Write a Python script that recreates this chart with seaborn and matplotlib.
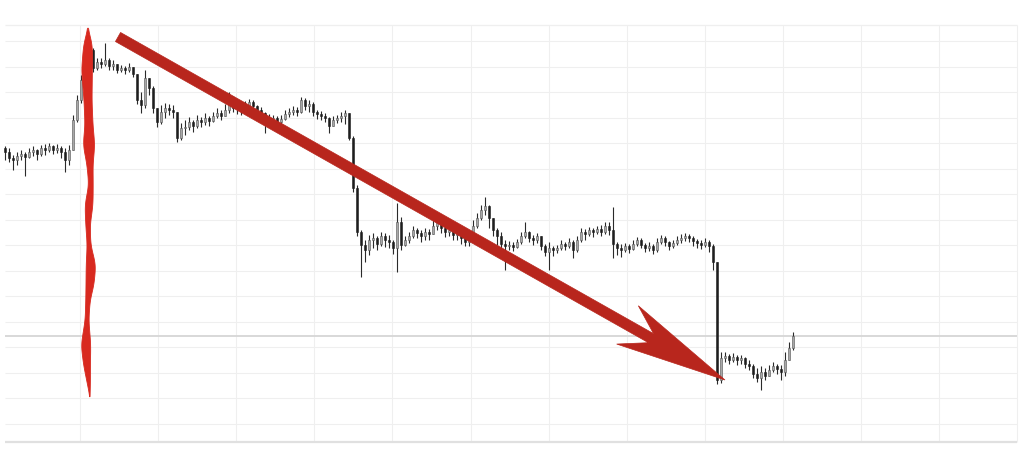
import numpy as np
import matplotlib
matplotlib.use("Agg")
import matplotlib.pyplot as plt
import seaborn as sns
from matplotlib.patches import Polygon

# ---------------- data (price units, one candle per bar) ----------------
first_open = 352
close = [348, 342, 340, 344, 346, 343, 348, 350, 346, 352, 350, 354, 350, 352, 348, 340,
         350, 380, 400, 420, 430, 450, 432, 438, 436, 440, 434, 436, 430, 432, 430, 433,
         426, 400, 395, 422, 412, 392, 378, 388, 392, 390, 388, 362, 372, 373, 378, 374,
         380, 378, 382, 379, 384, 387, 384, 390, 400, 392, 396, 390, 394, 398, 394, 390,
         387, 382, 380, 382, 378, 381, 386, 388, 390, 388, 400, 394, 396, 388, 386, 384,
         382, 374, 380, 382, 384, 387, 362, 312, 268, 255, 250, 260, 262, 256, 264, 260,
         258, 252, 278, 255, 260, 264, 270, 267, 264, 268, 266, 274, 278, 272, 268, 270,
         265, 267, 262, 258, 260, 274, 282, 290, 294, 282, 270, 264, 256, 254, 255, 253,
         258, 264, 268, 262, 260, 264, 254, 248, 252, 250, 252, 256, 254, 258, 250, 260,
         268, 266, 270, 268, 271, 268, 274, 270, 256, 252, 250, 254, 251, 256, 260, 255,
         252, 254, 250, 258, 262, 258, 254, 257, 260, 262, 264, 262, 259, 257, 255, 258,
         254, 238, 120, 142, 144, 140, 143, 140, 142, 136, 134, 126, 122, 128, 124, 130,
         134, 131, 128, 140, 152, 164]
high = [354, 352, 345, 348, 350, 348, 352, 354, 351, 355, 356, 357, 355, 356, 354, 352,
        355, 385, 405, 425, 438, 456, 452, 442, 442, 457, 442, 440, 436, 435, 434, 437,
        430, 426, 408, 430, 420, 414, 392, 395, 397, 396, 395, 388, 377, 380, 383, 380,
        385, 383, 387, 384, 388, 392, 390, 396, 408, 404, 400, 398, 399, 401, 400, 395,
        393, 388, 386, 385, 384, 385, 390, 392, 394, 393, 403, 402, 400, 398, 390, 389,
        387, 383, 384, 385, 388, 390, 386, 364, 315, 270, 260, 265, 267, 264, 268, 267,
        265, 260, 297, 283, 264, 268, 274, 272, 270, 272, 271, 280, 282, 279, 274, 274,
        271, 271, 268, 264, 264, 280, 287, 295, 303, 295, 282, 272, 268, 260, 259, 258,
        261, 268, 278, 269, 265, 267, 264, 256, 258, 254, 255, 260, 258, 262, 260, 264,
        272, 271, 273, 272, 274, 275, 278, 278, 293, 258, 256, 257, 256, 260, 263, 262,
        257, 258, 256, 262, 265, 264, 259, 260, 264, 266, 267, 266, 264, 261, 260, 262,
        260, 256, 238, 148, 148, 146, 147, 145, 145, 143, 140, 136, 132, 134, 132, 135,
        138, 136, 135, 148, 158, 168]
low = [340, 338, 330, 335, 340, 324, 342, 344, 340, 344, 345, 348, 346, 347, 342, 328,
       335, 350, 378, 397, 416, 426, 428, 430, 432, 434, 430, 430, 427, 428, 426, 428,
       423, 396, 387, 392, 405, 387, 373, 376, 382, 385, 382, 358, 360, 365, 370, 368,
       372, 373, 375, 374, 378, 382, 380, 384, 387, 388, 386, 385, 388, 392, 390, 385,
       382, 367, 374, 376, 374, 375, 380, 383, 385, 384, 387, 390, 388, 384, 381, 380,
       378, 367, 375, 377, 378, 376, 360, 308, 264, 223, 238, 245, 252, 250, 254, 253,
       252, 246, 228, 250, 254, 257, 262, 262, 258, 260, 260, 266, 270, 267, 263, 264,
       260, 260, 256, 254, 254, 259, 272, 280, 285, 272, 264, 255, 250, 230, 250, 249,
       252, 256, 262, 258, 255, 257, 250, 244, 230, 244, 247, 250, 250, 252, 242, 248,
       258, 260, 264, 263, 266, 264, 266, 265, 242, 245, 243, 248, 247, 250, 254, 252,
       248, 249, 246, 248, 256, 254, 250, 252, 255, 257, 259, 258, 254, 252, 251, 253,
       248, 230, 116, 117, 138, 136, 138, 135, 136, 132, 130, 122, 118, 110, 120, 124,
       128, 126, 120, 124, 144, 150]
current_price = 164

# arrow (candle index, price) and brush stroke
arrow_tail = (28.25, 463)
arrow_tip = (180.0, 120)
wave_p = [472, 455, 430, 400, 375, 355, 335, 315, 295, 275, 255, 235, 215, 200, 180, 155, 135, 115, 103]
wave_i = [20.75, 20.75, 20.5, 20.75, 21.0, 21.0, 21.25, 21.5, 21.0, 20.75, 21.0, 21.5, 21.25,
          20.75, 20.5, 20.25, 20.5, 21.0, 21.25]
wave_w = [0.0, 1.1, 1.35, 1.0, 1.0, 1.45, 0.75, 0.55, 1.0, 0.55, 0.45, 1.2, 1.0, 0.55, 0.45, 1.2,
          0.85, 0.35, 0.0]

# ---------------- figure ----------------
sns.set_theme(style="white")
fig = plt.figure(figsize=(10.24, 4.55), dpi=100)
ax = fig.add_axes([0, 0, 1, 1])
ax.set_xlim(-1.25, 254.75)
ax.set_ylim(45, 500)
for s in ax.spines.values():
    s.set_visible(False)
ax.set_xticks([])
ax.set_yticks([])

# grid
hgrid = 459 - 25.5 * np.arange(16)
ax.hlines(hgrid, 0, 253, color="#efefef", lw=0.8, zorder=0)
vgrid = 18.75 + 19.525 * np.arange(13)
ax.vlines(vgrid, 58, 475, color="#efefef", lw=0.8, zorder=0)
ax.hlines([475], 0, 253, color="#efefef", lw=0.9, zorder=0)
ax.hlines([58], 0, 253, color="#e0e0e0", lw=1.6, zorder=0)
ax.hlines([current_price], 0, 253, color="#d8d8d8", lw=1.4, zorder=0)

# candles
close_a = np.array(close, float)
open_a = np.concatenate([[first_open], close_a[:-1]])
hi_a = np.maximum.reduce([np.array(high, float), open_a, close_a])
lo_a = np.minimum.reduce([np.array(low, float), open_a, close_a])
idx = np.arange(len(close_a))
ax.vlines(idx, lo_a, hi_a, color="#2a2a2a", lw=0.8, zorder=2)
up = close_a >= open_a
bot = np.minimum(open_a, close_a)
hgt = np.maximum(np.abs(close_a - open_a), 1.5)
ax.bar(idx[up], hgt[up], bottom=bot[up], width=0.55, color="#a8a8a8", edgecolor="#555555",
       linewidth=0.4, zorder=3)
ax.bar(idx[~up], hgt[~up], bottom=bot[~up], width=0.55, color="#1e1e1e", edgecolor="#1e1e1e",
       linewidth=0.4, zorder=3)

# brush stroke (red wavy line)
pp = np.linspace(wave_p[0], wave_p[-1], 400)
order = np.argsort(wave_p)
ci = np.interp(pp, np.array(wave_p)[order], np.array(wave_i)[order])
cw = np.interp(pp, np.array(wave_p)[order], np.array(wave_w)[order])
k = np.hanning(31); k /= k.sum()
ci_s = np.convolve(np.pad(ci, 15, mode="edge"), k, mode="valid")
cw_s = np.convolve(np.pad(cw, 15, mode="edge"), k, mode="valid")
cw_s[0] = 0; cw_s[-1] = 0
pts = np.concatenate([np.column_stack([ci_s - cw_s, pp]),
                      np.column_stack([ci_s + cw_s, pp])[::-1]])
ax.add_patch(Polygon(pts, closed=True, facecolor="#d8291f", edgecolor="#d8291f", lw=0.6, zorder=5))

# arrow built in display space
T = ax.transData
t0 = T.transform(arrow_tail)
t1 = T.transform(arrow_tip)
d = t1 - t0
u = d / np.hypot(*d)
n = np.array([-u[1], u[0]])
sw = 5.2
poly = [t0 + n * sw,
        t1 - u * 85 + n * sw,
        t1 - u * 112 + n * 22,
        t1,
        t1 - u * 112 - n * 22,
        t1 - u * 85 - n * sw,
        t0 - n * sw]
data_pts = T.inverted().transform(np.array(poly))
ax.add_patch(Polygon(data_pts, closed=True, facecolor="#b8261d", edgecolor="#b8261d", lw=0.5, zorder=6))

fig.savefig("out.png", dpi=100, facecolor="white")
